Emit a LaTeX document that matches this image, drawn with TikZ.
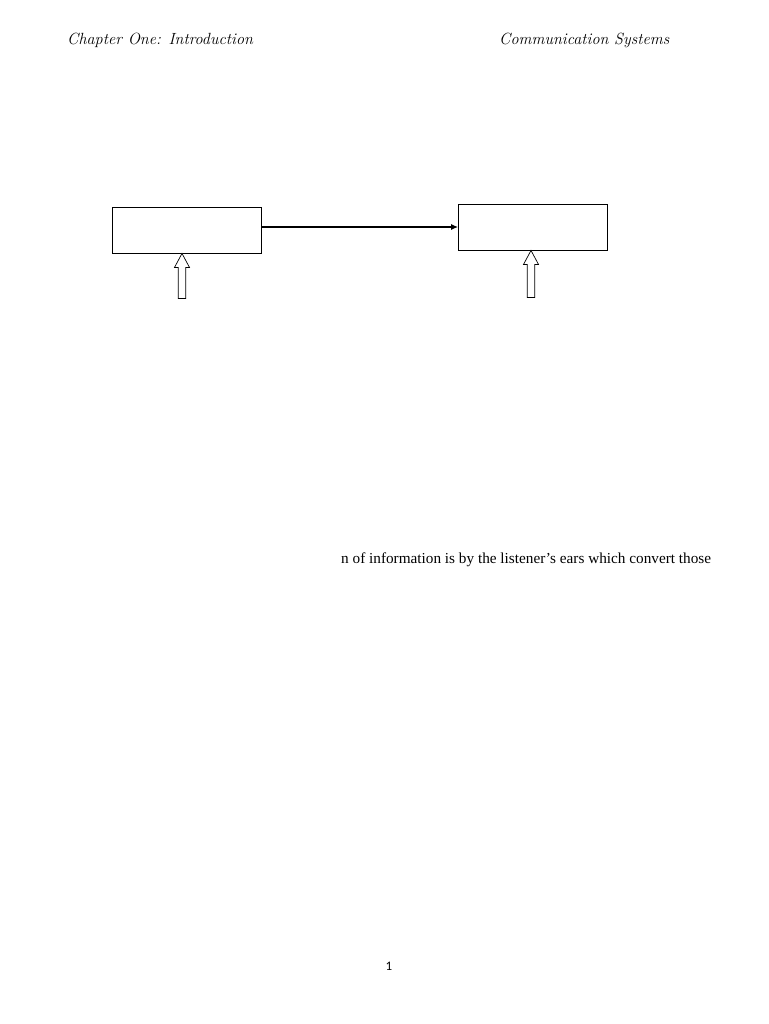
\documentclass[tikz,border=0pt]{standalone}
\usepackage{fontspec}
\setmainfont{Liberation Serif}
\newfontfamily\hdrfont{Latin Modern Roman}
\newfontfamily\pgfont{Carlito}
\usetikzlibrary{arrows.meta}
\begin{document}
\begin{tikzpicture}[x=1pt,y=-1pt,
  blockbox/.style={draw=black,line width=0.9pt,minimum width=149pt,minimum height=46pt,inner sep=0pt},
  hollowarrow/.style={draw=black,line width=0.7pt,fill=white},
  hdr/.style={font=\hdrfont\itshape\fontsize{16.2}{19}\selectfont,anchor=base west,inner sep=0pt},
  link/.style={draw=black,line width=1.2pt,-{Latex[length=7pt,width=6pt]}}]
\useasboundingbox (0,0) rectangle (768,1024);
\fill[white] (0,0) rectangle (768,1024);
\node[hdr] (h1) at (67,45) {Chapter One: Introduction};
\node[hdr] (h2) at (499,45) {Communication Systems};
\node[blockbox] (L) at (186.5,230) {};
\node[blockbox] (R) at (533,227) {};
\draw[link] (L.east |- R.west) -- (R.west);
\coordinate (tipL) at ([xshift=-4.5pt]L.south);
\coordinate (tipR) at ([xshift=-2pt]R.south);
\draw[hollowarrow,shift={(tipL)}] (0,0) -- (7.5,14) -- (3.8,14) -- (3.8,45) -- (-3.8,45) -- (-3.8,14) -- (-7.5,14) -- cycle;
\draw[hollowarrow,shift={(tipR)}] (0,0) -- (7.5,14) -- (3.8,14) -- (3.8,47) -- (-3.8,47) -- (-3.8,14) -- (-7.5,14) -- cycle;
\node[anchor=base west,inner sep=0pt,font=\fontsize{15.25}{18}\selectfont] (body) at (341,563) {n of information is by the listener’s ears which convert those};
\node[anchor=base,inner sep=0pt,font=\pgfont\fontsize{13}{15}\selectfont] (pg) at (389,970) {1};
\end{tikzpicture}
\end{document}
